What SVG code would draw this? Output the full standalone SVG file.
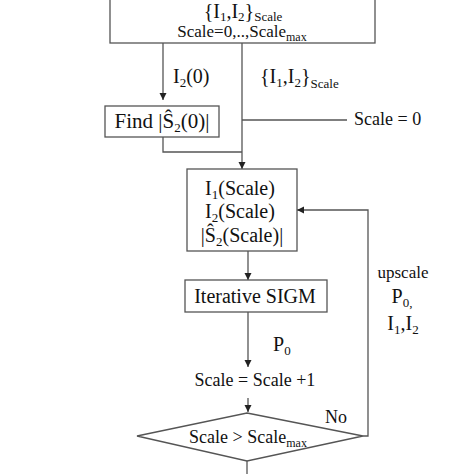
<svg xmlns="http://www.w3.org/2000/svg" width="474" height="474" viewBox="0 0 474 474">
<style>
.b{fill:#fff;stroke:#555;stroke-width:1.3}
.c{fill:none;stroke:#555;stroke-width:1.3}
text{font-family:"Liberation Serif","Times New Roman",serif;fill:#111;font-size:20px}
.m{text-anchor:middle}
.s{font-size:13px}
.f18{font-size:18px}
</style>
<defs>
<marker id="ah" markerUnits="userSpaceOnUse" markerWidth="8" markerHeight="8" refX="7" refY="3.5" orient="auto">
<path d="M0,0 L7,3.5 L0,7 z" fill="#222"/>
</marker>
</defs>
<rect width="474" height="474" fill="#fff"/>
<g id="connectors">
<line class="c" x1="163" y1="43" x2="163" y2="100" marker-end="url(#ah)"/>
<line class="c" x1="242" y1="43" x2="242" y2="169" marker-end="url(#ah)"/>
<line class="c" x1="242" y1="120" x2="347" y2="120"/>
<polyline class="c" points="163,137 163,152 242,152"/>
<line class="c" x1="248" y1="251" x2="248" y2="280" marker-end="url(#ah)"/>
<line class="c" x1="248" y1="312" x2="248" y2="367" marker-end="url(#ah)"/>
<line class="c" x1="248" y1="398" x2="248" y2="412" marker-end="url(#ah)"/>
<line class="c" x1="247" y1="461" x2="247" y2="474"/>
<polyline class="c" points="363,436 368,436 368,210 297,210" marker-end="url(#ah)"/>
<text x="173" y="83">I<tspan class="s" dy="4">2</tspan><tspan dy="-4">(0)</tspan></text>
<text x="260" y="83">{I<tspan class="s" dy="4">1</tspan><tspan dy="-4">,I</tspan><tspan class="s" dy="4">2</tspan><tspan dy="-4">}</tspan><tspan class="s" dy="5">Scale</tspan></text>
<text class="f18" x="354" y="125">Scale = 0</text>
<text x="273" y="351">P<tspan class="s" dy="4">0</tspan></text>
<text class="f18" x="325" y="423">No</text>
<text class="m" x="403" y="278" style="font-size:17px">upscale</text>
<text class="m" x="402" y="303">P<tspan class="s" dy="4">0,</tspan></text>
<text class="m" x="403" y="330">I<tspan class="s" dy="4">1</tspan><tspan dy="-4">,I</tspan><tspan class="s" dy="4">2</tspan></text>
</g>
<g id="input">
<rect class="b" x="110" y="-5" width="265" height="48"/>
<text class="m" x="243" y="18">{I<tspan class="s" dy="3">1</tspan><tspan dy="-3">,I</tspan><tspan class="s" dy="3">2</tspan><tspan dy="-3">}</tspan><tspan class="s" dy="3">Scale</tspan></text>
<text class="m" x="242" y="37" style="font-size:17px">Scale=0,..,Scale<tspan style="font-size:12px" dy="4">max</tspan></text>
</g>
<g id="find">
<rect class="b" x="105" y="106" width="114" height="31"/>
<text class="m" x="162" y="128" style="font-size:21px">Find |Ŝ<tspan class="s" dy="4">2</tspan><tspan dy="-4">(0)|</tspan></text>
</g>
<g id="scale-data">
<rect class="b" x="187" y="169" width="110" height="82"/>
<text class="m" x="240" y="195">I<tspan class="s" dy="4">1</tspan><tspan dy="-4">(Scale)</tspan></text>
<text class="m" x="240" y="218">I<tspan class="s" dy="4">2</tspan><tspan dy="-4">(Scale)</tspan></text>
<text class="m" x="242" y="242">|Ŝ<tspan class="s" dy="4">2</tspan><tspan dy="-4">(Scale)|</tspan></text>
</g>
<g id="sigm">
<rect class="b" x="185" y="280" width="142" height="32"/>
<text class="m" x="255" y="303">Iterative SIGM</text>
</g>
<g id="increment">
<text class="m f18" x="255" y="386">Scale = Scale +1</text>
</g>
<g id="decision">
<polygon class="b" points="247,413 363,436 247,461 137,436"/>
<text class="m f18" x="248" y="443">Scale &gt; Scale<tspan style="font-size:12px" dy="4">max</tspan></text>
</g>
</svg>
